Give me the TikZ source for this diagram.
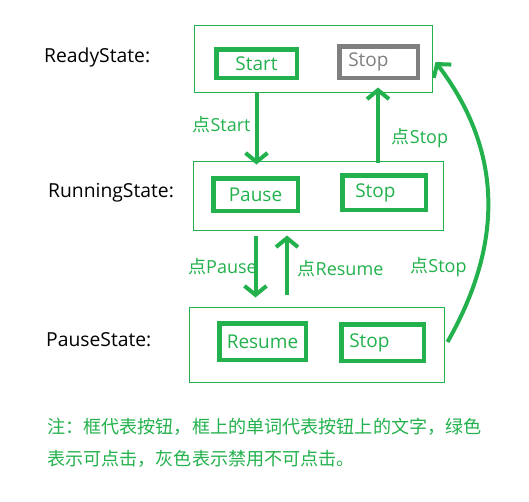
\documentclass[tikz,border=0pt]{standalone}
\usepackage{fontspec}
\setmainfont{Open Sans}
\newfontfamily\cjk{Noto Sans CJK SC}
\usetikzlibrary{arrows.meta,positioning}
\definecolor{btngreen}{HTML}{22B14C}
\definecolor{btngray}{HTML}{7F7F7F}
\tikzset{
  statebox/.style={draw=btngreen, line width=1pt, inner sep=0pt},
  btn/.style={draw=btngreen, line width=4.5pt, text=btngreen, inner sep=0pt,
    font=\fontsize{19}{22}\selectfont},
  leftbtn/.style={align=left, inner xsep=#1},
  lbl/.style={text=btngreen, inner sep=0pt, font=\fontsize{18}{21}\selectfont},
  statename/.style={anchor=west, inner sep=0pt, font=\fontsize{19.3}{22}\selectfont},
  arr/.style={draw=btngreen, line width=4pt, -{Straight Barb[length=9pt,width=22pt]}}
}
\begin{document}
\begin{tikzpicture}[x=1pt, y=-1pt]
                \useasboundingbox (0,0) rectangle (529,501);
                % state boxes
                \node[statebox, minimum width=238pt, minimum height=67pt] (ready) at (313,58.5) {};
                \node[statebox, minimum width=250pt, minimum height=69pt] (running) at (318,195.5) {};
                \node[statebox, minimum width=255pt, minimum height=75pt] (pause) at (316.5,344.5) {};
                \node[statename] (readyname) at (44,57) {ReadyState:};
                \node[statename] (runningname) at (48,193) {RunningState:};
                \node[statename] (pausename) at (46,340) {PauseState:};
                % buttons
                \node[btn, minimum width=80.5pt, minimum height=28.5pt] (start) at (256.5,63.5) {Start};
                \node[btn, leftbtn=9pt, text width=60.5pt, draw=btngray, text=btngray, minimum width=78.5pt, minimum height=31.5pt] (stopa) at (378.5,62) {Stop};
                \node[btn, minimum width=84.5pt, minimum height=32.5pt] (pausebtn) at (255.5,194.5) {Pause};
                \node[btn, leftbtn=13pt, text width=57.5pt, minimum width=83.5pt, minimum height=34.5pt] (stopb) at (384,192.5) {Stop};
                \node[btn, minimum width=86.5pt, minimum height=36.5pt] (resume) at (262.5,341.5) {Resume};
                \node[btn, leftbtn=8pt, text width=66.5pt, minimum width=82.5pt, minimum height=36.5pt] (stopc) at (382.5,342.5) {Stop};
                % transitions
                \coordinate (stopup) at (378,0);
                \coordinate (resumeup) at (287,0);
                \draw[arr] (ready.south -| start) -- ([yshift=-4pt]running.north -| start);
                \draw[arr] ([yshift=-2pt]running.north -| stopup) -- ([yshift=5pt]ready.south -| stopup);
                \draw[arr] ([yshift=-5pt]running.south -| pausebtn) -- ([yshift=9pt]pause.north -| pausebtn);
                \draw[arr] ([yshift=12pt]pause.north -| resumeup) -- ([yshift=-5pt]running.south -| resumeup);
                \draw[arr] ([xshift=3pt,yshift=2.5pt]pause.east) .. controls (497,255) and (510,160) .. ([xshift=3pt,yshift=-3.5pt]ready.east);
                \node[lbl] (lstart) at (221.5,125) {{\cjk 点}Start};
                \node[lbl] (lstopa) at (420,138) {{\cjk 点}Stop};
                \node[lbl] (lpause) at (222.5,267) {{\cjk 点}Pause};
                \node[lbl] (lresume) at (340.5,269) {{\cjk 点}Resume};
                \node[lbl] (lstopb) at (438.5,267) {{\cjk 点}Stop};
                % note
                \node[lbl, anchor=north west, align=left, font=\cjk\fontsize{18.1}{32}\selectfont] (note) at (47,418)
                  {注：框代表按钮，框上的单词代表按钮上的文字，绿色\\表示可点击，灰色表示禁用不可点击。};
\end{tikzpicture}
\end{document}
